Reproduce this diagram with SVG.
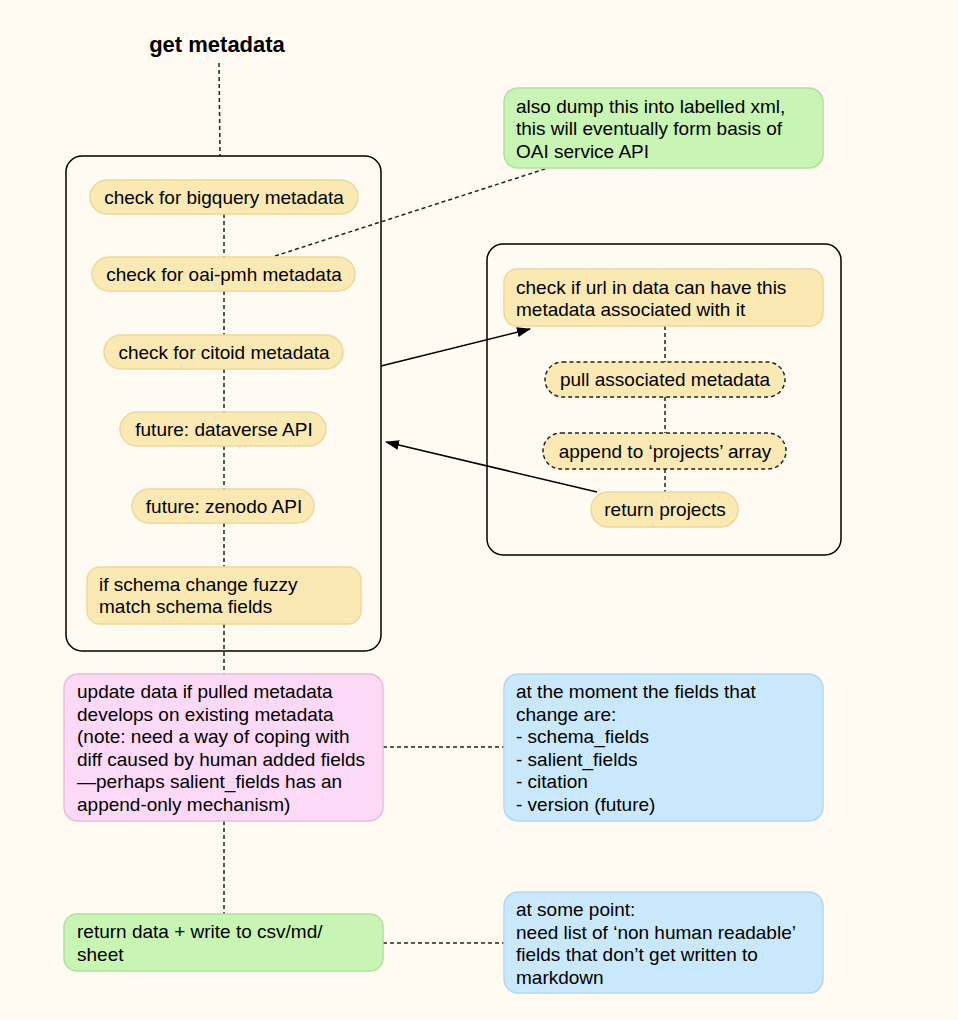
<svg xmlns="http://www.w3.org/2000/svg" width="958" height="1020" viewBox="0 0 958 1020">
<style>
text{font-family:"Liberation Sans",Arial,Helvetica,sans-serif;font-size:19px;fill:#000}
.title{font-size:22px;font-weight:bold}
.mid{text-anchor:middle}
.box{fill:none;stroke:#000;stroke-width:1.5}
.y{fill:#fae9b2;stroke:#ecd99c;stroke-width:1.5}
.yd{fill:#fae9b2;stroke:#222;stroke-width:1.5;stroke-dasharray:4 3}
.p{fill:#fdd9f8;stroke:#ebbcd8;stroke-width:1.5}
.b{fill:#c9e8fb;stroke:#b3d7ee;stroke-width:1.5}
.g{fill:#c9f5b4;stroke:#b3e09d;stroke-width:1.5}
.dash{fill:none;stroke:#222;stroke-width:1.5;stroke-dasharray:4 3}
.arr{fill:none;stroke:#000;stroke-width:1.5}
</style>
<defs>
<marker id="ah" markerWidth="14" markerHeight="10" refX="13" refY="5" orient="auto" markerUnits="userSpaceOnUse">
<path d="M0,0 L14,5 L0,10 Z" fill="#000"/>
</marker>
</defs>
<rect x="0" y="0" width="958" height="1020" fill="#fffbf3"/>

<g id="connectors">
<line class="dash" x1="219" y1="63" x2="220" y2="156"/>
<line class="dash" x1="224" y1="214" x2="224" y2="257"/>
<line class="dash" x1="224" y1="291" x2="224" y2="335"/>
<line class="dash" x1="224" y1="369" x2="224" y2="412"/>
<line class="dash" x1="224" y1="446" x2="224" y2="489"/>
<line class="dash" x1="224" y1="523" x2="224" y2="567"/>
<line class="dash" x1="224" y1="624" x2="224" y2="674"/>
<line class="dash" x1="224" y1="821" x2="224" y2="914"/>
<line class="dash" x1="275" y1="256" x2="548" y2="168"/>
<line class="dash" x1="383" y1="747" x2="504" y2="747"/>
<line class="dash" x1="383" y1="943" x2="504" y2="943"/>
<line class="dash" x1="665" y1="326" x2="665" y2="362"/>
<line class="dash" x1="665" y1="397" x2="665" y2="433"/>
<line class="dash" x1="665" y1="469" x2="665" y2="492"/>
<line class="arr" x1="381" y1="366" x2="530" y2="329" marker-end="url(#ah)"/>
<line class="arr" x1="597" y1="492" x2="386" y2="442" marker-end="url(#ah)"/>
</g>

<g id="title"><text class="title mid" x="217" y="52">get metadata</text></g>

<g id="left-group"><rect class="box" x="66" y="156" width="315" height="495" rx="16"/></g>
<g id="right-group"><rect class="box" x="487" y="244" width="354" height="311" rx="16"/></g>

<g id="n-bigquery"><rect class="y" x="90" y="180" width="268" height="34" rx="17"/><text class="mid" x="224" y="204">check for bigquery metadata</text></g>
<g id="n-oai"><rect class="y" x="92" y="257" width="263" height="34" rx="17"/><text class="mid" x="224" y="281">check for oai-pmh metadata</text></g>
<g id="n-citoid"><rect class="y" x="104" y="335" width="239" height="34" rx="17"/><text class="mid" x="224" y="359">check for citoid metadata</text></g>
<g id="n-dataverse"><rect class="y" x="120" y="412" width="206" height="34" rx="17"/><text class="mid" x="224" y="436">future: dataverse API</text></g>
<g id="n-zenodo"><rect class="y" x="132" y="489" width="182" height="34" rx="17"/><text class="mid" x="224" y="513">future: zenodo API</text></g>
<g id="n-schema"><rect class="y" x="87" y="567" width="274" height="57" rx="13"/><text x="99" y="591">if schema change fuzzy</text><text x="99" y="613">match schema fields</text></g>

<g id="n-xml"><rect class="g" x="504" y="88" width="319" height="80" rx="14"/>
<text x="516" y="113">also dump this into labelled xml,</text>
<text x="516" y="135">this will eventually form basis of</text>
<text x="516" y="158">OAI service API</text></g>

<g id="n-url"><rect class="y" x="504" y="269" width="319" height="57" rx="13"/>
<text x="516" y="294">check if url in data can have this</text>
<text x="516" y="316">metadata associated with it</text></g>
<g id="n-pull"><rect class="yd" x="545" y="362" width="240" height="35" rx="17.5"/><text class="mid" x="665" y="386">pull associated metadata</text></g>
<g id="n-append"><rect class="yd" x="543" y="433" width="243" height="36" rx="18"/><text class="mid" x="665" y="458">append to ‘projects’ array</text></g>
<g id="n-return-projects"><rect class="y" x="591" y="492" width="147" height="35" rx="17.5"/><text class="mid" x="665" y="516">return projects</text></g>

<g id="n-update"><rect class="p" x="64" y="674" width="319" height="147" rx="14"/>
<text x="77" y="698">update data if pulled metadata</text>
<text x="77" y="720.5">develops on existing metadata</text>
<text x="77" y="743">(note: need a way of coping with</text>
<text x="77" y="765.5">diff caused by human added fields</text>
<text x="77" y="788">—perhaps salient_fields has an</text>
<text x="77" y="810.5">append-only mechanism)</text></g>

<g id="n-fields"><rect class="b" x="504" y="674" width="319" height="147" rx="14"/>
<text x="516" y="698">at the moment the fields that</text>
<text x="516" y="720.5">change are:</text>
<text x="516" y="743">- schema_fields</text>
<text x="516" y="765.5">- salient_fields</text>
<text x="516" y="788">- citation</text>
<text x="516" y="810.5">- version (future)</text></g>

<g id="n-return-data"><rect class="g" x="64" y="914" width="319" height="57" rx="13"/>
<text x="77" y="938">return data + write to csv/md/</text>
<text x="77" y="960.5">sheet</text></g>

<g id="n-some-point"><rect class="b" x="504" y="892" width="319" height="101" rx="14"/>
<text x="516" y="916">at some point:</text>
<text x="516" y="938.5">need list of ‘non human readable’</text>
<text x="516" y="961">fields that don’t get written to</text>
<text x="516" y="983.5">markdown</text></g>
</svg>
